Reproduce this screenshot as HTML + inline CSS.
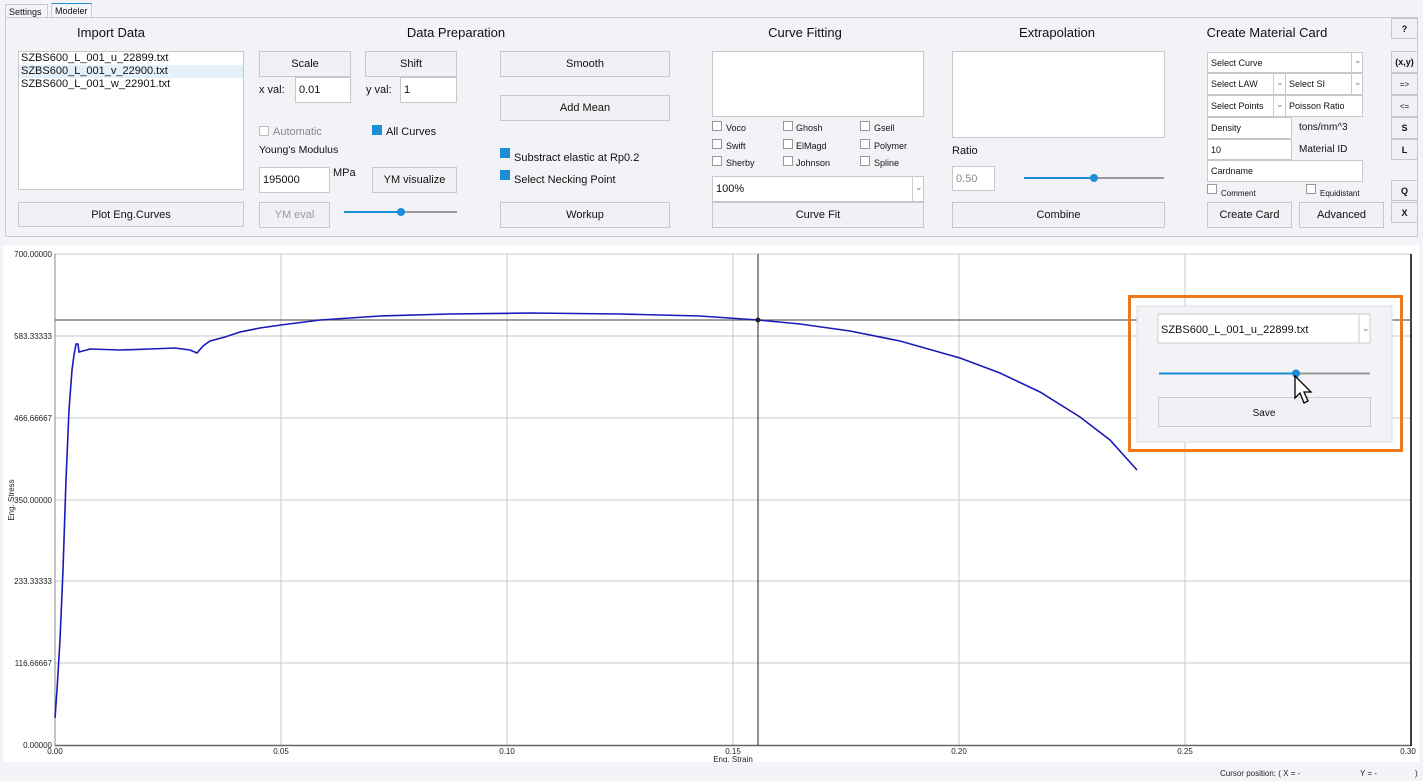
<!DOCTYPE html>
<html><head><meta charset="utf-8"><style>
*{box-sizing:border-box;margin:0;padding:0}
body{width:1423px;height:781px;background:#f4f3f8;font-family:"Liberation Sans",sans-serif;position:relative;overflow:hidden;color:#111}
.a{position:absolute}
.btn{position:absolute;background:#f1f0f4;border:1px solid #c8c8cc;font-size:11px;display:flex;align-items:center;justify-content:center;color:#111}
.inp{position:absolute;background:#fff;border:1px solid #c8c8cc;font-size:11px;display:flex;align-items:center;padding-left:3px}
.h{position:absolute;font-size:13px;transform:translateX(-50%);white-space:nowrap;top:25px}
.t{position:absolute;font-size:11px;white-space:nowrap}
.s{position:absolute;font-size:9px;white-space:nowrap}
.cb{position:absolute;width:10px;height:10px;border:1px solid #999;background:#fff}
.cbc{position:absolute;width:10px;height:10px;background:#1a8fd6}
.dd{position:absolute;font-size:9px;color:#777}
</style></head><body>
<!-- tabs -->
<div class="a" style="left:5px;top:4px;width:43px;height:14px;border:1px solid #ccc;border-bottom:none;font-size:9px;padding:2px 3px;background:#f4f3f8">Settings</div>
<div class="a" style="left:51px;top:3px;width:41px;height:15px;border:1px solid #ccc;border-bottom:none;border-top:1px solid #2a8ad0;font-size:9px;padding:2px 3px;background:#f6f5fa">Modeler</div>
<div class="a" style="left:5px;top:17px;width:1413px;height:220px;border:1px solid #ccc;background:#f3f2f7"></div>

<div class="h" style="left:111px">Import Data</div>
<div class="h" style="left:456px">Data Preparation</div>
<div class="h" style="left:805px">Curve Fitting</div>
<div class="h" style="left:1057px">Extrapolation</div>
<div class="h" style="left:1267px">Create Material Card</div>

<div class="a" style="left:18px;top:51px;width:226px;height:139px;background:#fff;border:1px solid #c8c8cc"></div>
<div class="a" style="left:19px;top:65px;width:224px;height:13px;background:#e4f0fa"></div>
<div class="t" style="left:21px;top:52px">SZBS600_L_001_u_22899.txt</div>
<div class="t" style="left:21px;top:65px">SZBS600_L_001_v_22900.txt</div>
<div class="t" style="left:21px;top:78px">SZBS600_L_001_w_22901.txt</div>
<div class="btn" style="left:18px;top:202px;width:226px;height:25px">Plot Eng.Curves</div>

<div class="btn" style="left:259px;top:51px;width:92px;height:26px">Scale</div>
<div class="btn" style="left:365px;top:51px;width:92px;height:26px">Shift</div>
<div class="t" style="left:259px;top:84px">x val:</div>
<div class="inp" style="left:295px;top:77px;width:56px;height:26px">0.01</div>
<div class="t" style="left:366px;top:84px">y val:</div>
<div class="inp" style="left:400px;top:77px;width:57px;height:26px">1</div>
<div class="cb" style="left:259px;top:126px;border-color:#bbb"></div>
<div class="t" style="left:273px;top:126px;color:#888">Automatic</div>
<div class="cbc" style="left:372px;top:125px"></div>
<div class="t" style="left:386px;top:126px">All Curves</div>
<div class="t" style="left:259px;top:144px;font-size:10.5px">Young's Modulus</div>
<div class="inp" style="left:259px;top:167px;width:71px;height:26px">195000</div>
<div class="t" style="left:333px;top:167px">MPa</div>
<div class="btn" style="left:372px;top:167px;width:85px;height:26px">YM visualize</div>
<div class="btn" style="left:259px;top:202px;width:71px;height:26px;color:#999">YM eval</div>
<div class="a" style="left:344px;top:211px;width:57px;height:2px;background:#1a8fd6"></div>
<div class="a" style="left:401px;top:211px;width:56px;height:2px;background:#999"></div>
<div class="a" style="left:397px;top:208px;width:8px;height:8px;border-radius:50%;background:#1a8fd6"></div>

<div class="btn" style="left:500px;top:51px;width:170px;height:26px">Smooth</div>
<div class="btn" style="left:500px;top:95px;width:170px;height:26px">Add Mean</div>
<div class="cbc" style="left:500px;top:148px"></div>
<div class="t" style="left:514px;top:152px">Substract elastic at Rp0.2</div>
<div class="cbc" style="left:500px;top:170px"></div>
<div class="t" style="left:514px;top:174px">Select Necking Point</div>
<div class="btn" style="left:500px;top:202px;width:170px;height:26px">Workup</div>

<div class="a" style="left:712px;top:51px;width:212px;height:66px;background:#fff;border:1px solid #c8c8cc"></div>
<div class="cb" style="left:712px;top:121px"></div><div class="s" style="left:726px;top:123px">Voco</div>
<div class="cb" style="left:712px;top:139px"></div><div class="s" style="left:726px;top:141px">Swift</div>
<div class="cb" style="left:712px;top:156px"></div><div class="s" style="left:726px;top:158px">Sherby</div>
<div class="cb" style="left:783px;top:121px"></div><div class="s" style="left:796px;top:123px">Ghosh</div>
<div class="cb" style="left:783px;top:139px"></div><div class="s" style="left:796px;top:141px">ElMagd</div>
<div class="cb" style="left:783px;top:156px"></div><div class="s" style="left:796px;top:158px">Johnson</div>
<div class="cb" style="left:860px;top:121px"></div><div class="s" style="left:874px;top:123px">Gsell</div>
<div class="cb" style="left:860px;top:139px"></div><div class="s" style="left:874px;top:141px">Polymer</div>
<div class="cb" style="left:860px;top:156px"></div><div class="s" style="left:874px;top:158px">Spline</div>
<div class="inp" style="left:712px;top:176px;width:212px;height:26px">100%</div>
<div class="a" style="left:912px;top:176px;width:1px;height:26px;background:#ccc"></div>
<div class="dd" style="left:915px;top:182px">⌄</div>
<div class="btn" style="left:712px;top:202px;width:212px;height:26px">Curve Fit</div>

<div class="a" style="left:952px;top:51px;width:213px;height:87px;background:#fff;border:1px solid #c8c8cc"></div>
<div class="t" style="left:952px;top:145px">Ratio</div>
<div class="inp" style="left:952px;top:166px;width:43px;height:25px;color:#888">0.50</div>
<div class="a" style="left:1024px;top:177px;width:70px;height:2px;background:#1a8fd6"></div>
<div class="a" style="left:1094px;top:177px;width:70px;height:2px;background:#999"></div>
<div class="a" style="left:1090px;top:174px;width:8px;height:8px;border-radius:50%;background:#1a8fd6"></div>
<div class="btn" style="left:952px;top:202px;width:213px;height:26px">Combine</div>

<div class="inp" style="left:1207px;top:52px;width:156px;height:21px;font-size:9px">Select Curve</div>
<div class="a" style="left:1351px;top:52px;width:1px;height:21px;background:#ccc"></div><div class="dd" style="left:1354px;top:55px">⌄</div>
<div class="inp" style="left:1207px;top:73px;width:79px;height:22px;font-size:9px">Select LAW</div>
<div class="a" style="left:1273px;top:73px;width:1px;height:22px;background:#ccc"></div><div class="dd" style="left:1276px;top:77px">⌄</div>
<div class="inp" style="left:1285px;top:73px;width:78px;height:22px;font-size:9px">Select SI</div>
<div class="a" style="left:1351px;top:73px;width:1px;height:22px;background:#ccc"></div><div class="dd" style="left:1354px;top:77px">⌄</div>
<div class="inp" style="left:1207px;top:95px;width:79px;height:22px;font-size:9px">Select Points</div>
<div class="a" style="left:1273px;top:95px;width:1px;height:22px;background:#ccc"></div><div class="dd" style="left:1276px;top:99px">⌄</div>
<div class="inp" style="left:1285px;top:95px;width:78px;height:22px;font-size:9px">Poisson Ratio</div>
<div class="inp" style="left:1207px;top:117px;width:85px;height:22px;font-size:9px">Density</div>
<div class="t" style="left:1299px;top:122px;font-size:10px">tons/mm^3</div>
<div class="inp" style="left:1207px;top:139px;width:85px;height:21px;font-size:9px">10</div>
<div class="t" style="left:1299px;top:144px;font-size:10px">Material ID</div>
<div class="inp" style="left:1207px;top:160px;width:156px;height:22px;font-size:9px">Cardname</div>
<div class="cb" style="left:1207px;top:184px"></div><div class="s" style="left:1221px;top:189px;font-size:8px">Comment</div>
<div class="cb" style="left:1306px;top:184px"></div><div class="s" style="left:1320px;top:189px;font-size:8px">Equidistant</div>
<div class="btn" style="left:1207px;top:202px;width:85px;height:26px">Create Card</div>
<div class="btn" style="left:1299px;top:202px;width:85px;height:26px">Advanced</div>

<div class="btn" style="left:1391px;top:18px;width:27px;height:21px;font-size:9px;font-weight:bold">?</div>
<div class="btn" style="left:1391px;top:51px;width:27px;height:22px;font-size:9px;font-weight:bold">(x,y)</div>
<div class="btn" style="left:1391px;top:73px;width:27px;height:22px;font-size:8px">=&gt;</div>
<div class="btn" style="left:1391px;top:95px;width:27px;height:22px;font-size:8px">&lt;=</div>
<div class="btn" style="left:1391px;top:117px;width:27px;height:22px;font-size:9px;font-weight:bold">S</div>
<div class="btn" style="left:1391px;top:139px;width:27px;height:21px;font-size:9px;font-weight:bold">L</div>
<div class="btn" style="left:1391px;top:180px;width:27px;height:21px;font-size:9px;font-weight:bold">Q</div>
<div class="btn" style="left:1391px;top:202px;width:27px;height:21px;font-size:9px;font-weight:bold">X</div>

<!-- chart -->
<svg class="a" style="left:0;top:0" width="1423" height="781">
<rect x="3" y="245" width="1416" height="517" fill="#fff"/>
<g stroke="#c8c8c8" stroke-width="1">
<line x1="281" y1="254" x2="281" y2="745"/><line x1="507" y1="254" x2="507" y2="745"/><line x1="733" y1="254" x2="733" y2="745"/><line x1="959" y1="254" x2="959" y2="745"/><line x1="1185" y1="254" x2="1185" y2="745"/>
<line x1="55" y1="254" x2="1411" y2="254"/><line x1="55" y1="336" x2="1411" y2="336"/><line x1="55" y1="418" x2="1411" y2="418"/><line x1="55" y1="500" x2="1411" y2="500"/><line x1="55" y1="581" x2="1411" y2="581"/><line x1="55" y1="663" x2="1411" y2="663"/>
</g>
<line x1="55" y1="254" x2="55" y2="746" stroke="#888"/>
<line x1="55" y1="745.5" x2="1411" y2="745.5" stroke="#666" stroke-width="1.5"/>
<line x1="1411" y1="254" x2="1411" y2="746" stroke="#000" stroke-width="1.5"/>
<line x1="55" y1="320" x2="1411" y2="320" stroke="#666" stroke-width="1.2"/>
<line x1="758" y1="254" x2="758" y2="745" stroke="#222" stroke-width="1"/>
<polyline fill="none" stroke="#1a1ab8" stroke-width="1.6" points="55,718 57,690 60,640 63,570 66,480 69,410 72,370 74,355 76,344 78,344 79,352 90,349 120,350 150,349 175,348 190,350 197,353 203,346 210,341 225,337 240,332 260,328 281,325 320,320 380,316 450,314 530,313 620,314 700,316 758,320 800,324 850,331 900,341 960,358 1000,373 1040,392 1080,417 1110,440 1137,470"/>
<circle cx="758" cy="320" r="2.5" fill="#222"/>
<g font-size="8" fill="#222" text-anchor="end" font-family="Liberation Sans">
<text x="52" y="257">700.00000</text><text x="52" y="339">583.33333</text><text x="52" y="421">466.66667</text><text x="52" y="503">350.00000</text><text x="52" y="584">233.33333</text><text x="52" y="666">116.66667</text><text x="52" y="748">0.00000</text>
</g>
<g font-size="8" fill="#222" text-anchor="middle" font-family="Liberation Sans">
<text x="55" y="754">0.00</text><text x="281" y="754">0.05</text><text x="507" y="754">0.10</text><text x="733" y="754">0.15</text><text x="959" y="754">0.20</text><text x="1185" y="754">0.25</text><text x="1408" y="754">0.30</text>
<text x="733" y="762">Eng. Strain</text>
<text transform="translate(14,500) rotate(-90)">Eng. Stress</text>
</g>
<rect x="3" y="762" width="1416" height="19" fill="#f4f3f8"/>
<g font-size="8" fill="#222" font-family="Liberation Sans">
<text x="1220" y="776">Cursor position: (  X = -</text><text x="1360" y="776">Y = -</text><text x="1415" y="776">)</text>
</g>
<!-- overlay -->
<rect x="1129.5" y="296.5" width="272" height="154" fill="none" stroke="#f07818" stroke-width="3"/>
<rect x="1137" y="306" width="255" height="136" fill="#f3f2f6" stroke="#ddd"/>
<rect x="1158" y="314" width="212" height="29" fill="#fff" stroke="#ccc"/>
<line x1="1359" y1="314" x2="1359" y2="343" stroke="#ccc"/>
<text x="1161" y="333" font-size="11" font-family="Liberation Sans" fill="#111">SZBS600_L_001_u_22899.txt</text>
<text x="1362" y="331" font-size="9" fill="#777">⌄</text>
<line x1="1159" y1="373.5" x2="1296" y2="373.5" stroke="#1a8fd6" stroke-width="2"/>
<line x1="1296" y1="373.5" x2="1370" y2="373.5" stroke="#999" stroke-width="2"/>
<circle cx="1296" cy="373.5" r="4" fill="#1a8fd6"/>
<rect x="1158.5" y="397.5" width="212" height="29" fill="#f1f0f4" stroke="#ccc"/>
<text x="1264" y="416" font-size="10" text-anchor="middle" font-family="Liberation Sans" fill="#111">Save</text>
<path d="M1295,376 L1295,398 L1300,393 L1304,403 L1308,401 L1304,392 L1311,392 Z" fill="#fff" stroke="#000" stroke-width="1.3"/>
</svg>
</body></html>
